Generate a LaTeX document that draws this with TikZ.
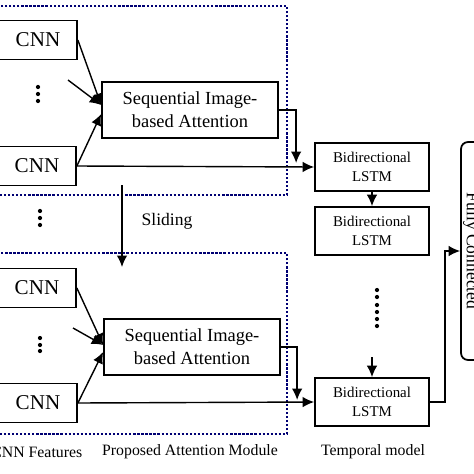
\documentclass[tikz,border=0pt]{standalone}
\usepackage{fontspec}
\setmainfont{Liberation Serif}
\usetikzlibrary{arrows.meta,calc}

\begin{document}
\begin{tikzpicture}[x=0.02cm, y=-0.02cm, >={Latex[length=6.5pt,width=6pt]},
  box/.style={draw, line width=1pt, inner sep=1pt, align=center},
  cnnbox/.style={box, minimum width=1.56cm, minimum height=0.78cm, font=\fontsize{12}{14}\selectfont},
  attbox/.style={box, minimum width=3.52cm, minimum height=1.12cm, font=\fontsize{10.5}{13}\selectfont},
  lstmbox/.style={box, minimum width=2.28cm, minimum height=0.96cm, font=\fontsize{8.5}{11}\selectfont},
  lbl/.style={inner sep=0pt, font=\fontsize{9}{11}\selectfont},
  link/.style={line width=0.8pt}]

  \colorlet{modBlue}{blue!45!black}   % dotted module frames

\clip (0,0) rectangle (474,474);

% the two attention modules
\draw[modBlue, line width=1.3pt, densely dotted] (-5,6) rectangle (287,195);
\draw[modBlue, line width=1.3pt, densely dotted] (-5,253) rectangle (287,434);

% CNN features
\node[cnnbox] (cnnA) at (38,40) {CNN};
\node[cnnbox] (cnnB) at (37,166) {CNN};
\node[cnnbox] (cnnC) at (37,288) {CNN};
\node[cnnbox] (cnnD) at (38,403) {CNN};
\foreach \y in {87,94,101}
\fill (38,\y) circle (1.2pt);
\foreach \y in {211,218,225}
\fill (40,\y) circle (1.2pt);
\foreach \y in {338,345,351}
\fill (40,\y) circle (1.2pt);

% attention
\node[attbox] (attA) at (190,110) {Sequential Image-\\based Attention};
\node[attbox] (attB) at (192,347) {Sequential Image-\\based Attention};

% temporal model
\node[lstmbox] (lstmA) at (372,167) {Bidirectional\\LSTM};
\node[lstmbox] (lstmB) at (372,231) {Bidirectional\\LSTM};
\node[lstmbox] (lstmC) at (372,402) {Bidirectional\\LSTM};
\foreach \y in {290,297,305,312,319,326}
\fill (377,\y) circle (1.2pt);

% fully connected (cut at the right edge)
\node[draw, line width=1pt, rounded corners=4pt, inner sep=1pt, minimum width=0.4cm,
  minimum height=4.36cm, font=\fontsize{10}{12}\selectfont] (fc) at (471,251)
  {\rotatebox{-90}{Fully Connected}};

% connectors, first module
\coordinate (inA) at (68,80);
\draw[link,->] (cnnA.east) -- ($(attA.west)+(0,-5)$);
\draw[link,->] (inA) -- ($(attA.west)+(0,-5)$);
\draw[link,->] (cnnB.east) -- ($(attA.west)+(0,4)$);
\draw[link,->] (cnnB.east) -- (lstmA.west);
\draw[link,->] (attA.east) -| ($(lstmA.west)+(-18,-4)$);

% connectors, second module
\coordinate (inB) at (73,328);
\draw[link,->] (cnnC.east) -- ($(attB.west)+(0,-2)$);
\draw[link,->] (inB) -- ($(attB.west)+(0,-2)$);
\draw[link,->] (cnnD.east) -- ($(attB.west)+(0,5)$);
\draw[link,->] (cnnD.east) -- (lstmC.west);
\draw[link,->] (attB.east) -| ($(lstmC.west)+(-17,-2)$);

% temporal chain
\coordinate (dotEnd) at (372,357);
\draw[link,->] (lstmA) -- (lstmB);
\draw[link,->] (dotEnd) -- (lstmC.north);
\draw[link,->] (lstmC.east) -- ++(15,0) |- (fc.west);

% sliding window
\coordinate (slideS) at (122,185);
\coordinate (slideE) at (122,267);
\draw[link,->] (slideS) -- (slideE);
\node[font=\fontsize{10}{12}\selectfont] (slideLbl) at (167,221) {Sliding};

% captions
\node[lbl, anchor=west] (featLbl) at (-9,452) {CNN Features};
\node[lbl] (attLbl) at (190,452) {Proposed Attention Module};
\node[lbl] (tempLbl) at (373,452) {Temporal model};

\end{tikzpicture}
\end{document}
